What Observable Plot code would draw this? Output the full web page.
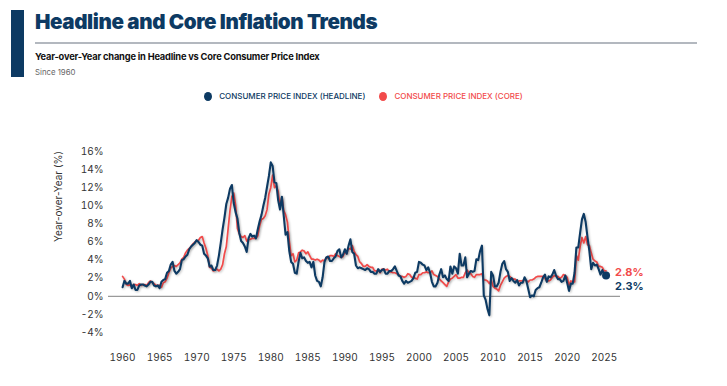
<!DOCTYPE html>
<html>
<head>
<meta charset="utf-8">
<script src="https://cdn.jsdelivr.net/npm/d3@7"></script>
<script src="https://cdn.jsdelivr.net/npm/@observablehq/plot@0.6"></script>
<style>
  body { margin: 0; background: #fff; font-family: Inter, "Noto Sans", sans-serif; }
  #wrap { width: 727px; }
  #head { position: relative; height: 110px; }
  .bar { position: absolute; left: 11px; top: 10px; width: 13px; height: 67px; background: #0d3a63; }
  .title { position: absolute; left: 35px; top: 9px; font-size: 20.6px; font-weight: 900; color: #0d3a63; letter-spacing: -0.4px; white-space: nowrap; }
  .rule { position: absolute; left: 35px; top: 42px; width: 662px; height: 2px; background: #b3b8bf; }
  .sub { position: absolute; left: 35px; top: 51px; font-size: 9.3px; font-weight: 700; color: #111; letter-spacing: -0.2px; white-space: nowrap; }
  .since { position: absolute; left: 35px; top: 67px; font-size: 7.8px; color: #666; white-space: nowrap; }
  .legend { position: absolute; top: 91px; left: 0; width: 727px; display: flex; justify-content: center; align-items: center; font-size: 8px; font-weight: 500; white-space: nowrap; }
  .legend .sw { display: inline-block; width: 8px; height: 9px; border-radius: 50%; margin-right: 7px; }
  .legend .item { display: flex; align-items: center; margin: 0 7px; }
  svg .series { filter: drop-shadow(1px 1px 1px rgba(0,0,0,0.25)); }
</style>
</head>
<body>
<div id="wrap">
  <div id="head">
    <div class="bar"></div>
    <div class="title">Headline and Core Inflation Trends</div>
    <div class="rule"></div>
    <div class="sub">Year-over-Year change in Headline vs Core Consumer Price Index</div>
    <div class="since">Since 1960</div>
    <div class="legend" id="legend"></div>
  </div>
  <div id="chart"></div>
</div>
<script>
// ---- data (quarterly, starting 1960 Q1) ----
const startYear = 1960;
const headline = [
  1.0, 1.7, 1.4, 1.4,   1.7, 0.9, 1.3, 0.7,   0.7, 1.2, 1.3, 1.3,   1.2, 1.1, 1.3, 1.6,
  1.6, 1.2, 1.1, 1.2,   0.9, 1.6, 1.8, 1.9,   2.6, 2.8, 3.5, 3.8,   2.8, 2.5, 2.7, 3.0,
  4.0, 4.1, 4.4, 4.6,   5.2, 5.5, 5.7, 5.9,   6.2, 6.0, 5.7, 5.6,   4.7, 4.5, 4.2, 3.3,
  3.4, 2.9, 2.9, 3.4,   4.5, 5.9, 7.4, 8.7,   10.2, 10.9, 11.9, 12.3, 10.3, 9.3, 8.6, 7.0,
  6.1, 5.9, 5.5, 4.9,   6.4, 6.9, 6.6, 6.7,   6.4, 7.4, 8.3, 9.0,   10.0, 10.9, 12.1, 13.3,
  14.8, 14.4, 12.6, 12.5, 10.6, 9.6, 11.0, 8.9, 6.8, 7.1, 5.0, 3.8, 3.6, 2.6, 2.5, 3.8,
  4.8, 4.2, 4.3, 3.9,   3.7, 3.8, 3.2, 3.8,   2.3, 1.7, 1.6, 1.1,   2.1, 3.8, 4.3, 4.4,
  3.9, 3.9, 4.2, 4.4,   5.0, 5.2, 4.3, 4.6,   5.2, 4.7, 5.6, 6.3,   4.9, 4.7, 3.4, 3.1,
  3.2, 3.1, 3.0, 2.9,   3.1, 3.0, 2.7, 2.7,   2.5, 2.5, 3.0, 2.7,   2.9, 3.0, 2.5, 2.5,
  2.8, 2.8, 3.0, 3.3,   2.8, 2.3, 2.2, 1.7,   1.4, 1.7, 1.5, 1.6,   1.7, 2.0, 2.6, 2.7,
  3.8, 3.7, 3.5, 3.4,   2.9, 3.2, 2.6, 1.6,   1.1, 1.1, 1.5, 2.4,   3.0, 2.1, 2.3, 1.9,
  1.7, 3.3, 2.5, 3.3,   3.1, 2.5, 4.7, 3.4,   3.4, 4.3, 2.1, 2.5,   2.8, 2.7, 2.8, 4.1,
  4.0, 5.0, 5.6, 0.1,   -0.4, -1.4, -2.1, 2.7, 2.3, 1.1, 1.1, 1.5,  2.7, 3.6, 3.9, 3.0,
  2.7, 1.7, 2.0, 1.7,   1.5, 1.8, 1.2, 1.5,   1.5, 2.1, 1.7, 0.8,   -0.1, 0.1, 0.0, 0.7,
  0.9, 1.0, 1.5, 2.1,   2.4, 1.6, 2.2, 2.1,   2.4, 2.9, 2.3, 1.9,   1.9, 1.6, 1.7, 2.3,
  1.5, 0.6, 1.4, 1.4,   2.6, 5.4, 5.4, 7.0,   8.5, 9.1, 8.2, 6.5,   5.0, 3.0, 3.7, 3.4,
  3.5, 3.0, 2.4, 2.9,   2.4, 2.3
];
const core = [
  2.2, 1.9, 1.3, 1.2,   1.3, 1.0, 1.3, 1.3,   1.2, 1.4, 1.2, 1.3,   1.3, 1.2, 1.5, 1.7,
  1.5, 1.4, 1.2, 1.2,   1.2, 1.0, 1.5, 1.6,   2.0, 2.6, 3.1, 3.3,   3.4, 3.3, 3.5, 3.7,
  4.1, 4.3, 4.8, 5.1,   5.3, 5.5, 5.8, 6.0,   6.1, 6.2, 6.5, 6.6,   5.9, 5.3, 4.5, 3.2,
  3.1, 2.8, 2.9, 3.0,   2.8, 3.0, 3.5, 4.7,   5.5, 7.5, 9.5, 11.0,  11.4, 10.1, 7.5, 6.9,
  6.6, 6.5, 6.7, 6.1,   6.3, 6.3, 6.4, 6.4,   6.4, 6.7, 7.8, 8.5,   8.6, 8.9, 9.6, 11.3,
  12.0, 13.4, 12.0, 12.2, 11.6, 9.9, 11.0, 9.5, 9.0, 8.2, 6.1, 4.5, 4.7, 3.8, 4.0, 4.8,
  4.9, 5.1, 5.0, 4.7,   4.9, 4.5, 4.1, 4.1,   4.0, 4.1, 4.0, 3.8,   4.0, 3.9, 4.3, 4.2,
  4.5, 4.5, 4.4, 4.7,   4.5, 4.4, 4.3, 4.4,   4.9, 4.7, 5.3, 5.2,   5.6, 5.0, 4.6, 4.4,
  3.8, 3.6, 3.3, 3.3,   3.5, 3.3, 3.2, 3.2,   2.8, 2.8, 2.9, 2.6,   3.0, 3.0, 2.9, 3.0,
  2.7, 2.7, 2.6, 2.6,   2.5, 2.4, 2.2, 2.2,   2.1, 2.2, 2.5, 2.4,   2.1, 2.1, 2.0, 1.9,
  2.4, 2.4, 2.6, 2.6,   2.7, 2.6, 2.6, 2.8,   2.4, 2.3, 2.2, 1.9,   1.7, 1.5, 1.3, 1.1,
  1.6, 1.9, 2.0, 2.2,   2.4, 2.0, 2.0, 2.1,   2.1, 2.6, 2.9, 2.6,   2.5, 2.2, 2.1, 2.4,
  2.4, 2.4, 2.5, 1.8,   1.8, 1.7, 1.4, 1.8,   1.1, 0.9, 0.8, 0.6,   1.2, 1.6, 2.0, 2.2,
  2.3, 2.2, 2.0, 1.9,   1.9, 1.6, 1.7, 1.7,   1.7, 1.9, 1.7, 1.6,   1.8, 1.8, 1.9, 2.1,
  2.2, 2.2, 2.2, 2.2,   2.0, 1.7, 1.7, 1.8,   2.1, 2.3, 2.2, 2.2,   2.0, 2.1, 2.4, 2.3,
  2.1, 1.2, 1.7, 1.6,   1.6, 4.5, 4.0, 5.5,   6.5, 5.9, 6.6, 5.7,   5.6, 4.8, 4.1, 3.9,
  3.8, 3.3, 3.3, 3.2,   2.8, 2.8
];
const xTicks = [1960, 1965, 1970, 1975, 1980, 1985, 1990, 1995, 2000, 2005, 2010, 2015, 2020, 2025];
const yTicks = [-4, -2, 0, 2, 4, 6, 8, 10, 12, 14, 16];
const seriesNames = ["CONSUMER PRICE INDEX (HEADLINE)", "CONSUMER PRICE INDEX (CORE)"];
const seriesColors = ["#0d3a63", "#f24b4b"];

// ---- build tables ----
const toRows = (arr) => arr.map((v, i) => ({ year: startYear + i / 4, value: v }));
const hRows = toRows(headline);
const cRows = toRows(core);
const hLast = hRows[hRows.length - 1];
const cLast = cRows[cRows.length - 1];

// legend
const leg = document.getElementById("legend");
seriesNames.forEach((n, i) => {
  const it = document.createElement("div");
  it.className = "item";
  it.innerHTML = `<span class="sw" style="background:${seriesColors[i]}"></span><span style="color:${seriesColors[i]}">${n}</span>`;
  leg.appendChild(it);
});

const chart = Plot.plot({
  width: 727,
  height: 276,
  marginLeft: 108,
  marginRight: 107,
  marginTop: 41,
  marginBottom: 54,
  style: { fontFamily: "Inter, 'Noto Sans', sans-serif", fontSize: "10px", color: "#333", background: "transparent" },
  x: { domain: [1958.1, 2027.2], label: null },
  y: { domain: [-4, 16], label: null },
  marks: [
    Plot.axisX({ ticks: xTicks, tickFormat: d => String(d), tickSize: 0, tickPadding: 21, fontSize: 10, fill: "#333" }),
    Plot.axisY({ ticks: yTicks, tickFormat: d => d + "%", tickSize: 0, tickPadding: 5, fontSize: 10, fill: "#333" }),
    Plot.text(["Year-over-Year (%)"], { frameAnchor: "left", dx: -50, rotate: -90, text: d => d, fontSize: 10, fill: "#333" }),
    Plot.ruleY([0], { stroke: "#9a9a9a", strokeWidth: 1.3 }),
    Plot.line(cRows, { x: "year", y: "value", stroke: seriesColors[1], strokeWidth: 1.7, className: "series" }),
    Plot.line(hRows, { x: "year", y: "value", stroke: seriesColors[0], strokeWidth: 2.1, className: "series" }),
    Plot.dot([hLast], { x: "year", y: "value", r: 4, fill: seriesColors[0] }),
    Plot.text([cLast], { x: "year", y: "value", text: d => d.value.toFixed(1) + "%", dx: 9, dy: 2, textAnchor: "start", fill: seriesColors[1], fontWeight: 700, fontSize: 11 }),
    Plot.text([hLast], { x: "year", y: "value", text: d => d.value.toFixed(1) + "%", dx: 9, dy: 11, textAnchor: "start", fill: seriesColors[0], fontWeight: 700, fontSize: 11 })
  ]
});
document.getElementById("chart").appendChild(chart);
</script>
</body>
</html>
